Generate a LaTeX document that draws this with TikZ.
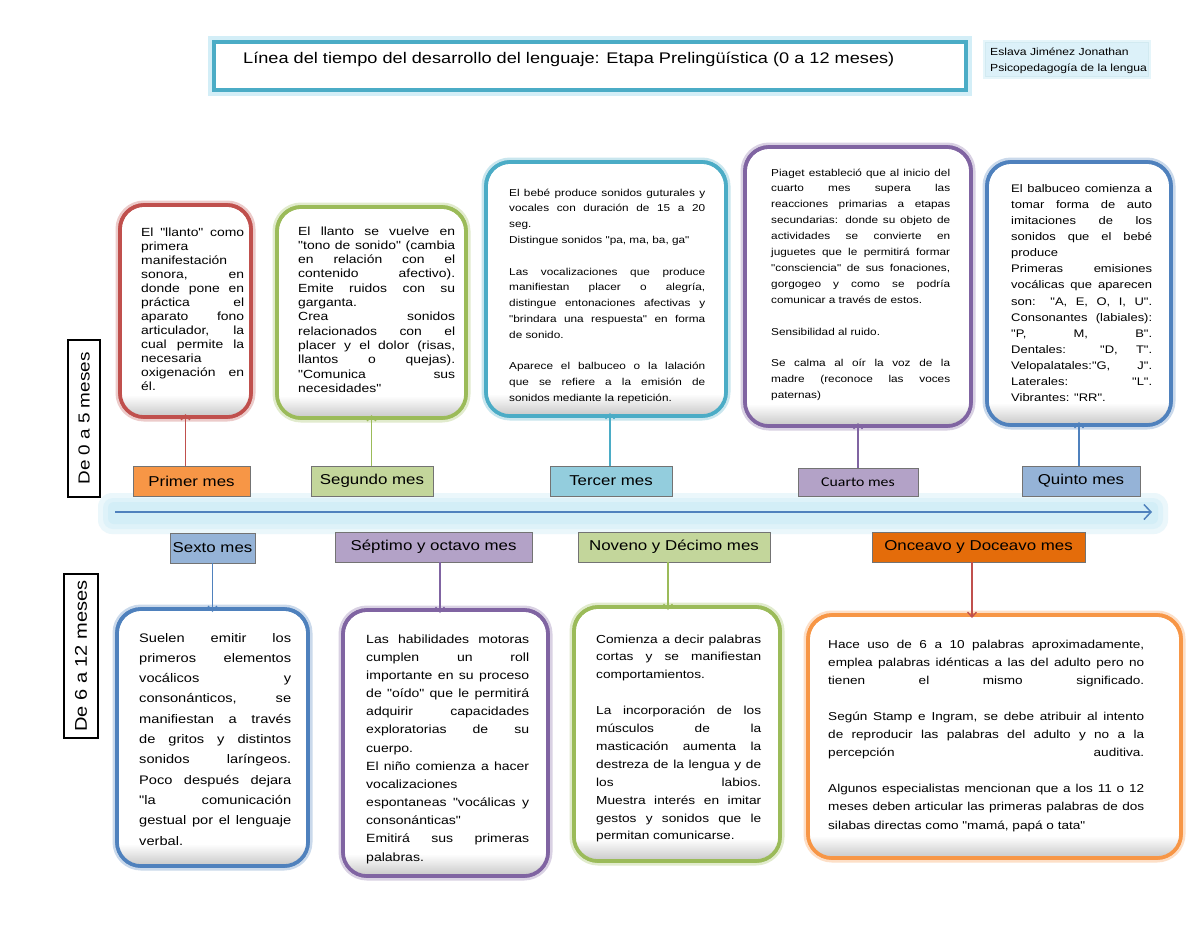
\documentclass[tikz,border=0pt]{standalone}
\usepackage{fontspec}
\setmainfont{Liberation Sans}[FakeStretch=1.18, Ligatures=TeXOff]
\newfontfamily\calfont{Carlito}[FakeStretch=1.18, Ligatures=TeXOff]
\usetikzlibrary{arrows.meta}
\setlength{\parindent}{0pt}
\tolerance=10000 \hbadness=10000 \hyphenpenalty=10000 \exhyphenpenalty=10000
\newcommand{\JL}{\linebreak}
\newcommand{\JUST}{\leftskip=0pt\relax\rightskip=0pt\relax\parfillskip=0pt plus 1fil\relax
  \spaceskip=\fontdimen2\font plus 3\fontdimen2\font minus .1\fontdimen2\font\relax}
\newcommand{\TB}[2]{\parbox[t]{#1}{\JUST #2}}
\newcommand{\fs}[2]{\fontsize{#1}{#2}\selectfont}
\newcommand{\inshadow}[2]{%
  \begin{scope}
    \clip[rounded corners=24pt] (#1.south west) rectangle (#1.north east);
    \shade[top color=white, bottom color=black!22] (#1.south west) rectangle ([yshift=22pt]#1.south east);
  \end{scope}
  \draw[#2, line width=3.6pt, rounded corners=24pt] (#1.south west) rectangle (#1.north east);}
\definecolor{cRed}{HTML}{C0504D}
\definecolor{cGreen}{HTML}{9BBB59}
\definecolor{cTeal}{HTML}{4BACC6}
\definecolor{cPurple}{HTML}{8064A2}
\definecolor{cBlue}{HTML}{4F81BD}
\definecolor{cOrange}{HTML}{F79646}
\definecolor{fOrange}{HTML}{F79646}
\definecolor{fGreen}{HTML}{C3D69B}
\definecolor{fTeal}{HTML}{93CDDD}
\definecolor{fPurple}{HTML}{B3A2C7}
\definecolor{fBlue}{HTML}{95B3D7}
\definecolor{fDark}{HTML}{E46C0A}
\definecolor{glowC}{HTML}{D3EEF7}
\begin{document}
\begin{tikzpicture}[x=1pt,y=-1pt,
  bigbox/.style={draw=#1, line width=3.6pt, rounded corners=24pt, fill=white,
    preaction={draw=#1!30, line width=9pt}, inner sep=0pt, outer sep=0pt},
  txt/.style={inner sep=0pt, anchor=base west, text=black},
  lbl/.style={draw=black!55, line width=0.8pt, fill=#1, inner sep=0pt,
    minimum height=30pt, font=\fs{14.3}{16}},
  conn/.style={draw=#1, line width=1.3pt, -{Straight Barb[length=5pt,width=9pt]}},
  vlab/.style={draw=black, line width=1.8pt, fill=white, inner sep=0pt}
]
\useasboundingbox (0,0) rectangle (1200,927);
\fill[white] (0,0) rectangle (1200,927);

% ---------- title ----------
\node[draw=cTeal, line width=4.5pt, fill=white, preaction={draw=glowC, line width=12pt},
  minimum width=752pt, minimum height=48pt, inner sep=0pt] (title) at (590,66) {};
\node[inner sep=0pt, anchor=base west, font=\fs{15.4}{18}] (titletxt) at (243,63)
  {Línea del tiempo del desarrollo del lenguaje: Etapa Prelingüística (0 a 12 meses)};

% ---------- author ----------
\node[draw=cTeal!25, line width=0.6pt, fill=glowC!80, preaction={draw=glowC!60, line width=5pt},
  minimum width=163pt, minimum height=34pt, inner sep=0pt] (author) at (1066.5,59) {};
\node[inner sep=0pt, anchor=base west, align=left, font=\fs{10.3}{16}] (authortxt) at (990,71)
  {Eslava Jiménez Jonathan\\Psicopedagogía de la lengua};

% ---------- vertical labels ----------
\node[vlab, minimum width=32pt, minimum height=157pt] (v1) at (84,418.5) {};
\node[rotate=90, inner sep=0pt, font=\fs{16}{18}] (v1t) at (v1.center) {De 0 a 5 meses};
\node[vlab, minimum width=34pt, minimum height=164pt] (v2) at (81,656) {};
\node[rotate=90, inner sep=0pt, font=\fs{17}{19}] (v2t) at (v2.center) {De 6 a 12 meses};

% ---------- timeline ----------
\fill[glowC!45, rounded corners=14pt] (98,493) rectangle (1168,534);
\fill[glowC!75, rounded corners=10pt] (103,498) rectangle (1163,529);
\fill[glowC, rounded corners=6pt] (108,502) rectangle (1158,524);
\coordinate (tl0) at (115,512);
\coordinate (tl1) at (1152,512);
\draw[cBlue, line width=1.5pt, -{Straight Barb[length=7pt,width=15pt]}] (tl0) -- (tl1);

% ---------- top boxes ----------
\node[bigbox=cRed, minimum width=131pt, minimum height=212pt] (b1) at (185.5,311) {};
\node[bigbox=cGreen, minimum width=189pt, minimum height=211pt] (b2) at (371.5,312.5) {};
\node[bigbox=cTeal, minimum width=240pt, minimum height=254pt] (b3) at (606,289) {};
\node[bigbox=cPurple, minimum width=226pt, minimum height=279pt] (b4) at (858,286.5) {};
\node[bigbox=cBlue, minimum width=184pt, minimum height=263pt] (b5) at (1079,293.5) {};
\inshadow{b1}{cRed}
\inshadow{b2}{cGreen}
\inshadow{b3}{cTeal}
\inshadow{b4}{cPurple}
\inshadow{b5}{cBlue}

\node[txt, font=\fs{11.8}{14}] (t1) at (141,236) {\TB{103pt}
{El "llanto" como\JL primera\JL manifestación\JL sonora, en\JL donde pone en\JL práctica el\JL aparato fono\JL articulador, la\JL cual permite la\JL necesaria\JL oxigenación en\JL él.}};

\node[txt, font=\fs{11.8}{14.3}] (t2) at (298,235) {\TB{157pt}
{El llanto se vuelve en\JL "tono de sonido" (cambia\JL en relación con el\JL contenido afectivo).\JL Emite ruidos con su\JL garganta.\\ Crea sonidos\JL relacionados con el\JL placer y el dolor (risas,\JL llantos o quejas).\JL "Comunica sus\JL necesidades"}};

\node[txt, font=\fs{10}{15.8}] (t3) at (509,196) {\TB{196pt}
{El bebé produce sonidos guturales y\JL vocales con duración de 15 a 20\JL seg.\\ Distingue sonidos "pa, ma, ba, ga"\\[15.8pt] Las vocalizaciones que produce\JL manifiestan placer o alegría,\JL distingue entonaciones afectivas y\JL "brindara una respuesta" en forma\JL de sonido.\\[15.8pt] Aparece el balbuceo o la lalación\JL que se refiere a la emisión de\JL sonidos mediante la repetición.}};

\node[txt, font=\fs{10}{15.9}] (t4) at (771,176) {\TB{179pt}
{Piaget estableció que al inicio del\JL cuarto mes supera las\JL reacciones primarias a etapas\JL secundarias: donde su objeto de\JL actividades se convierte en\JL juguetes que le permitirá formar\JL "consciencia" de sus fonaciones,\JL gorgogeo y como se podría\JL comunicar a través de estos.\\[15.9pt] Sensibilidad al ruido.\\[15.9pt] Se calma al oír la voz de la\JL madre (reconoce las voces\JL paternas)}};

\node[txt, font=\fs{11}{16.15}] (t5) at (1011,192) {\TB{141pt}
{El balbuceo comienza a\JL tomar forma de auto\JL imitaciones de los\JL sonidos que el bebé\JL produce\\ Primeras emisiones\JL vocálicas que aparecen\JL son: "A, E, O, I, U".\JL Consonantes (labiales):\JL "P, M, B".\JL Dentales: "D, T".\JL Velopalatales:"G, J".\JL Laterales: "L".\JL Vibrantes: "RR".}};

% ---------- top labels ----------
\node[lbl=fOrange, minimum width=117pt] (l1) at (191.5,481) {Primer mes};
\node[lbl=fGreen, minimum width=122pt] (l2) at (372,481) {Segundo mes};
\node[lbl=fTeal, minimum width=122pt] (l3) at (611,481) {Tercer mes};
\node[lbl=fPurple, minimum width=120pt, minimum height=28pt, font=\calfont\fs{13.4}{15}] (l4) at (858,482) {Cuarto mes};
\node[lbl=fBlue, minimum width=118pt] (l5) at (1081,481) {Quinto mes};

\draw[conn=cRed] (b1.south |- l1.north) -- ([yshift=3pt]b1.south);
\draw[conn=cGreen] (b2.south |- l2.north) -- ([yshift=3pt]b2.south);
\draw[conn=cTeal] ([xshift=4pt]b3.south |- l3.north) -- ([xshift=4pt,yshift=3pt]b3.south);
\draw[conn=cPurple] (b4.south |- l4.north) -- ([yshift=3pt]b4.south);
\draw[conn=cBlue] (b5.south |- l5.north) -- ([yshift=3pt]b5.south);

% ---------- bottom labels ----------
\node[lbl=fBlue, minimum width=85pt] (l6) at (212.5,548) {Sexto mes};
\node[lbl=fPurple, minimum width=197pt] (l7) at (433.5,547) {Séptimo y octavo mes};
\node[lbl=fGreen, minimum width=192pt] (l8) at (674,547) {Noveno y Décimo mes};
\node[lbl=fDark, minimum width=213pt] (l9) at (978.5,547) {Onceavo y Doceavo mes};

% ---------- bottom boxes ----------
\node[bigbox=cBlue, minimum width=191pt, minimum height=257pt] (b6) at (212.5,737.5) {};
\node[bigbox=cPurple, minimum width=205pt, minimum height=266pt] (b7) at (445.5,743) {};
\node[bigbox=cGreen, minimum width=206pt, minimum height=254pt] (b8) at (677,734) {};
\node[bigbox=cOrange, minimum width=373pt, minimum height=243pt] (b9) at (994.5,736.5) {};
\inshadow{b6}{cBlue}
\inshadow{b7}{cPurple}
\inshadow{b8}{cGreen}
\inshadow{b9}{cOrange}

\draw[conn=cBlue] (l6.south) -- ([yshift=-3pt]l6.south |- b6.north);
\draw[conn=cPurple] ([xshift=6.5pt]l7.south) -- ([xshift=6.5pt,yshift=-3pt]l7.south |- b7.north);
\draw[conn=cGreen] ([xshift=-6pt]l8.south) -- ([xshift=-6pt,yshift=-3pt]l8.south |- b8.north);
\draw[conn=cRed] ([xshift=-6.5pt]l9.south) -- ([xshift=-6.5pt,yshift=-3pt]l9.south |- b9.north);

\node[txt, font=\fs{12.4}{20.3}] (t6) at (139,642) {\TB{152pt}
{Suelen emitir los\JL primeros elementos\JL vocálicos y\JL consonánticos, se\JL manifiestan a través\JL de gritos y distintos\JL sonidos laríngeos.\JL Poco después dejara\JL "la comunicación\JL gestual por el lenguaje\JL verbal.}};

\node[txt, font=\fs{11.9}{18.17}] (t7) at (366,643) {\TB{163pt}
{Las habilidades motoras\JL cumplen un roll\JL importante en su proceso\JL de "oído" que le permitirá\JL adquirir capacidades\JL exploratorias de su\JL cuerpo.\\ El niño comienza a hacer\JL vocalizaciones\\ espontaneas "vocálicas y\JL consonánticas"\\ Emitirá sus primeras\JL palabras.}};

\node[txt, font=\fs{11.6}{17.9}] (t8) at (596,643) {\TB{165pt}
{Comienza a decir palabras\JL cortas y se manifiestan\JL comportamientos.\\[17.9pt] La incorporación de los\JL músculos de la\JL masticación aumenta la\JL destreza de la lengua y de\JL los labios.\JL Muestra interés en imitar\JL gestos y sonidos que le\JL permitan comunicarse.}};

\node[txt, font=\fs{11.5}{18.1}] (t9) at (828,648) {\TB{316pt}
{Hace uso de 6 a 10 palabras aproximadamente,\JL emplea palabras idénticas a las del adulto pero no\JL tienen el mismo significado.\vspace{18.1pt}\JL Según Stamp e Ingram, se debe atribuir al intento\JL de reproducir las palabras del adulto y no a la\JL percepción auditiva.\vspace{18.1pt}\JL Algunos especialistas mencionan que a los 11 o 12\JL meses deben articular las primeras palabras de dos\JL silabas directas como "mamá, papá o tata"}};
\end{tikzpicture}
\end{document}
